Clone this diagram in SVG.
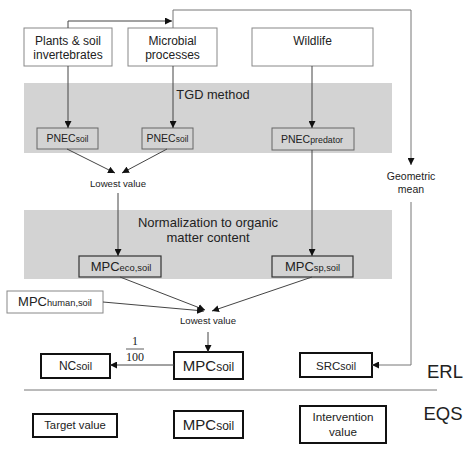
<svg xmlns="http://www.w3.org/2000/svg" width="474" height="455" viewBox="0 0 474 455">
<style>
text{font-family:"Liberation Sans",Arial,sans-serif;fill:#222;text-anchor:middle}
.band{fill:#d3d3d3}
.top{fill:#fff;stroke:#888;stroke-width:1}
.pn{fill:#d3d3d3;stroke:#666;stroke-width:1}
.mp{fill:#d3d3d3;stroke:#333;stroke-width:1.2}
.hu{fill:#fff;stroke:#888;stroke-width:1}
.thick{fill:#fff;stroke:#111;stroke-width:2}
.c{fill:none;stroke:#444;stroke-width:1}
.g{fill:none;stroke:#777;stroke-width:1}
.f{font-family:"Liberation Serif","Times New Roman",serif;font-size:12px}
</style>
<defs>
<marker id="ah" viewBox="0 0 10 10" refX="10" refY="5" markerWidth="7" markerHeight="7" markerUnits="userSpaceOnUse" orient="auto">
<path d="M0,0 L10,5 L0,10 z" fill="#111"/>
</marker>
</defs>
<rect class="band" x="24" y="83" width="368" height="70"/>
<rect class="band" x="24" y="210" width="368" height="69"/>
<text x="213" y="99" font-size="12.8">TGD method</text>
<text x="208" y="227" font-size="13">Normalization to organic</text>
<text x="208" y="242" font-size="13">matter content</text>
<g id="plants"><rect class="top" x="24" y="28" width="88" height="38"/><text x="68" y="45" font-size="12">Plants &amp; soil</text><text x="68" y="59" font-size="12">invertebrates</text></g>
<g id="microbial"><rect class="top" x="128" y="28" width="89" height="38"/><text x="172.5" y="45" font-size="12">Microbial</text><text x="172.5" y="59" font-size="12">processes</text></g>
<g id="wildlife"><rect class="top" x="252" y="28" width="121" height="38"/><text x="312.5" y="45" font-size="12">Wildlife</text></g>
<g id="pnec1"><rect class="pn" x="37" y="128" width="61" height="21"/><text x="67.5" y="142" font-size="10.5">PNEC<tspan font-size="8.5">soil</tspan></text></g>
<g id="pnec2"><rect class="pn" x="142" y="128" width="51" height="21"/><text x="167.5" y="142" font-size="10.5">PNEC<tspan font-size="8.5">soil</tspan></text></g>
<g id="pnecpred"><rect class="pn" x="272" y="128" width="82" height="22"/><text x="312" y="143" font-size="10.5">PNEC<tspan font-size="8.8">predator</tspan></text></g>
<g id="lowest1"><text x="118" y="187" font-size="9.6">Lowest value</text></g>
<g id="geomean"><text x="411" y="180" font-size="10.5">Geometric</text><text x="411" y="193" font-size="10.5">mean</text></g>
<g id="mpceco"><rect class="mp" x="79" y="256" width="82" height="21"/><text x="121" y="271" font-size="13">MPC<tspan font-size="9.4">eco,soil</tspan></text></g>
<g id="mpcsp"><rect class="mp" x="272" y="256" width="81" height="21"/><text x="312.5" y="271" font-size="13">MPC<tspan font-size="9.3">sp,soil</tspan></text></g>
<g id="mpchuman"><rect class="hu" x="7" y="291" width="96" height="22"/><text x="55" y="306" font-size="13">MPC<tspan font-size="9.3">human,soil</tspan></text></g>
<g id="lowest2"><text x="208" y="324" font-size="9.6">Lowest value</text></g>
<g id="ncsoil"><rect class="thick" x="41" y="354" width="69" height="24"/><text x="75.5" y="370" font-size="12">NC<tspan font-size="10.5">soil</tspan></text></g>
<g id="frac"><text class="f" x="135" y="345">1</text><line x1="126" y1="349" x2="144" y2="349" stroke="#333" stroke-width="0.8"/><text class="f" x="135" y="361">100</text></g>
<g id="mpcsoil"><rect class="thick" x="174" y="352" width="69" height="27"/><text x="208.5" y="371" font-size="15">MPC<tspan font-size="12">soil</tspan></text></g>
<g id="srcsoil"><rect class="thick" x="300" y="353" width="72" height="24"/><text x="336" y="370" font-size="11.5">SRC<tspan font-size="10.5">soil</tspan></text></g>
<g id="erl"><text x="445" y="378" font-size="18.5">ERL</text></g>
<line x1="24" y1="390" x2="437" y2="390" stroke="#777" stroke-width="1"/>
<g id="eqs"><text x="443" y="420" font-size="18.5">EQS</text></g>
<g id="target"><rect class="thick" x="33" y="414" width="84" height="23"/><text x="75" y="429" font-size="11.3">Target value</text></g>
<g id="mpcsoil2"><rect class="thick" x="174" y="411" width="69" height="27"/><text x="208.5" y="430" font-size="15">MPC<tspan font-size="12">soil</tspan></text></g>
<g id="intervention"><rect class="thick" x="300" y="406" width="86" height="37"/><text x="343" y="421" font-size="11.7">Intervention</text><text x="343" y="436" font-size="11.7">value</text></g>
<g id="connectors">
<path class="c" d="M68,28 V21 H172" marker-end="url(#ah)"/>
<path class="g" d="M173,28 V10 H411 V165" marker-end="url(#ah)"/>
<path class="g" d="M411,202 V365 H372" marker-end="url(#ah)"/>
<path class="c" d="M68,66 V128" marker-end="url(#ah)"/>
<path class="c" d="M173,66 V128" marker-end="url(#ah)"/>
<path class="c" d="M312,66 V128" marker-end="url(#ah)"/>
<path class="c" d="M67,149 L115,173" marker-end="url(#ah)"/>
<path class="c" d="M167,149 L122,173" marker-end="url(#ah)"/>
<path class="c" d="M118,193 V256" marker-end="url(#ah)"/>
<path class="c" d="M312,150 V256" marker-end="url(#ah)"/>
<path class="c" d="M120,277 L205,310" marker-end="url(#ah)"/>
<path class="c" d="M103,302 L204,311" marker-end="url(#ah)"/>
<path class="c" d="M312,277 L212,311" marker-end="url(#ah)"/>
<path class="c" d="M208,332 V352" marker-end="url(#ah)"/>
<path class="c" d="M174,365 H110" marker-end="url(#ah)"/>
</g>
</svg>
